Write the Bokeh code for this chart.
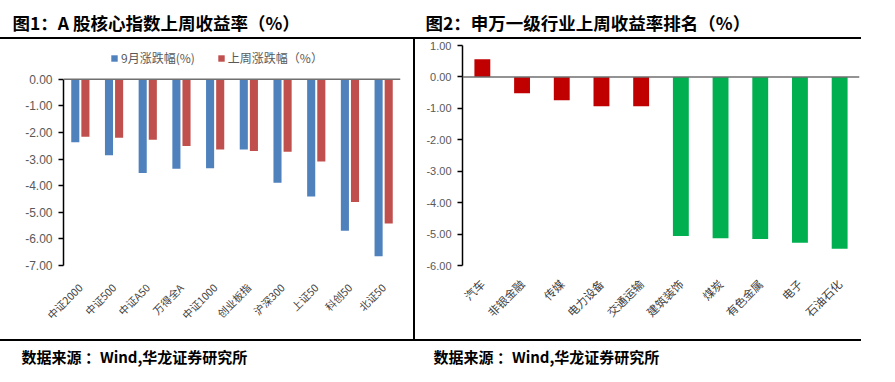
import math
from bokeh.plotting import figure
from bokeh.models import (ColumnDataSource, FactorRange, Range1d, FixedTicker,
                          NumeralTickFormatter, Legend, LegendItem, Span, Spacer)
from bokeh.layouts import column, row
from bokeh.transform import dodge
from bokeh.core.properties import value
from bokeh.embed import file_html
from bokeh.resources import INLINE

# ---------------- data ----------------
idx_names = ["中证2000", "中证500", "中证A50", "万得全A", "中证1000",
             "创业板指", "沪深300", "上证50", "科创50", "北证50"]
sep_chg = [-2.37, -2.86, -3.52, -3.36, -3.34, -2.64, -3.89, -4.41, -5.69, -6.65]
week_chg = [-2.16, -2.20, -2.27, -2.51, -2.64, -2.70, -2.72, -3.09, -4.61, -5.42]
series_labels = ["9月涨跌幅(%)", "上周涨跌幅（%）"]

ind_names = ["汽车", "非银金融", "传媒", "电力设备", "交通运输",
             "建筑装饰", "煤炭", "有色金属", "电子", "石油石化"]
ind_ret = [0.56, -0.52, -0.74, -0.93, -0.93, -5.06, -5.13, -5.16, -5.28, -5.47]

title1 = "图1：A 股核心指数上周收益率（%）"
title2 = "图2：申万一级行业上周收益率排名（%）"
source_txt = "数据来源 ：Wind,华龙证券研究所"

CJK = "Noto Sans CJK SC"
NUM = "Liberation Sans"
TICK_COLOR = "#595959"
TOTAL_W = 861


def style_common(p):
    p.xgrid.grid_line_color = None
    p.ygrid.grid_line_color = None
    p.outline_line_color = None
    p.background_fill_color = "white"
    p.border_fill_color = "white"


def style_yaxis(p, ticks, bounds, size):
    ax = p.yaxis[0]
    ax.ticker = FixedTicker(ticks=ticks)
    ax.formatter = NumeralTickFormatter(format="0.00")
    ax.bounds = bounds
    ax.axis_line_color = "black"
    ax.axis_line_width = 1.5
    ax.major_tick_line_color = "black"
    ax.major_tick_line_width = 1.5
    ax.major_tick_out = 5
    ax.major_tick_in = 0
    ax.minor_tick_line_color = None
    ax.major_label_text_font = NUM
    ax.major_label_text_font_size = size
    ax.major_label_text_color = TICK_COLOR
    ax.major_label_standoff = 6


def style_xaxis(p, size, standoff):
    ax = p.xaxis[0]
    ax.axis_line_color = None
    ax.major_tick_line_color = None
    ax.major_tick_out = 0
    ax.major_tick_in = 0
    ax.minor_tick_line_color = None
    ax.major_label_orientation = math.pi / 4
    ax.major_label_text_font = CJK
    ax.major_label_text_font_size = size
    ax.major_label_text_color = "#404040"
    ax.major_label_standoff = standoff


# ---------------- left chart ----------------
p1 = figure(width=413, height=300, x_range=FactorRange(factors=idx_names),
            y_range=Range1d(-7, 1.27), output_backend="svg", toolbar_location=None,
            min_border_left=63, min_border_right=13, min_border_top=5,
            min_border_bottom=74)
style_common(p1)
src1 = ColumnDataSource(dict(name=idx_names, sep=sep_chg, week=week_chg))
r1 = p1.vbar(x=dodge("name", -0.15, range=p1.x_range), top="sep", bottom=0,
             width=0.24, source=src1, fill_color="#4F81BD", line_color=None)
r2 = p1.vbar(x=dodge("name", 0.15, range=p1.x_range), top="week", bottom=0,
             width=0.24, source=src1, fill_color="#C0504D", line_color=None)
p1.add_layout(Span(location=0, dimension="width", line_color="#6f6f6f",
                   line_width=1.5))
style_yaxis(p1, [0, -1, -2, -3, -4, -5, -6, -7], (-7, 0), "12px")
style_xaxis(p1, "10.5px", 20)
leg = Legend(items=[LegendItem(label=series_labels[0], renderers=[r1]),
                    LegendItem(label=series_labels[1], renderers=[r2])],
             orientation="horizontal", location=(47, 199),
             border_line_color=None, background_fill_alpha=0,
             label_text_font=CJK, label_text_font_size="12px",
             label_text_color=TICK_COLOR, glyph_width=8, glyph_height=8,
             label_standoff=3, spacing=22, padding=0, margin=0, label_height=12)
p1.add_layout(leg)

# ---------------- right chart ----------------
ind_colors = ["#C00000" if v_i < 5 else "#00B050" for v_i in range(len(ind_names))]
p2 = figure(width=446, height=300, x_range=FactorRange(factors=ind_names),
            y_range=Range1d(-6, 1), output_backend="svg", toolbar_location=None,
            min_border_left=47, min_border_right=2, min_border_top=6,
            min_border_bottom=71)
style_common(p2)
src2 = ColumnDataSource(dict(name=ind_names, ret=ind_ret, color=ind_colors))
p2.vbar(x="name", top="ret", bottom=0, width=0.4, source=src2,
        fill_color="color", line_color=None)
p2.add_layout(Span(location=0, dimension="width", line_color="#6f6f6f",
                   line_width=1.5))
style_yaxis(p2, [1, 0, -1, -2, -3, -4, -5, -6], (-6, 1), "11px")
style_xaxis(p2, "11.5px", 16)

# ---------------- header / footer ----------------
def text_strip(h, texts, xs, y, size):
    f = figure(width=TOTAL_W, height=h, x_range=Range1d(0, TOTAL_W),
               y_range=Range1d(h, 0), output_backend="svg",
               toolbar_location=None, min_border=0)
    f.axis.visible = False
    style_common(f)
    f.text(x=xs, y=[y] * len(xs), text=texts, text_font=value(CJK),
           text_font_size=value(size), text_font_style="bold",
           text_baseline="middle", text_align="left", text_color="black")
    return f


header = text_strip(37, [title1, title2], [12, 425], 22, "17.5px")
footer = text_strip(36, [source_txt, source_txt], [21, 433], 15, "15px")

hline1 = Spacer(width=TOTAL_W, height=2, styles={"background-color": "black"})
hline2 = Spacer(width=TOTAL_W, height=2, styles={"background-color": "black"})
vline = Spacer(width=2, height=300, styles={"background-color": "black"})

layout = column(header, hline1, row(p1, vline, p2), hline2, footer)

open("out.html", "w").write(file_html(layout, INLINE))
